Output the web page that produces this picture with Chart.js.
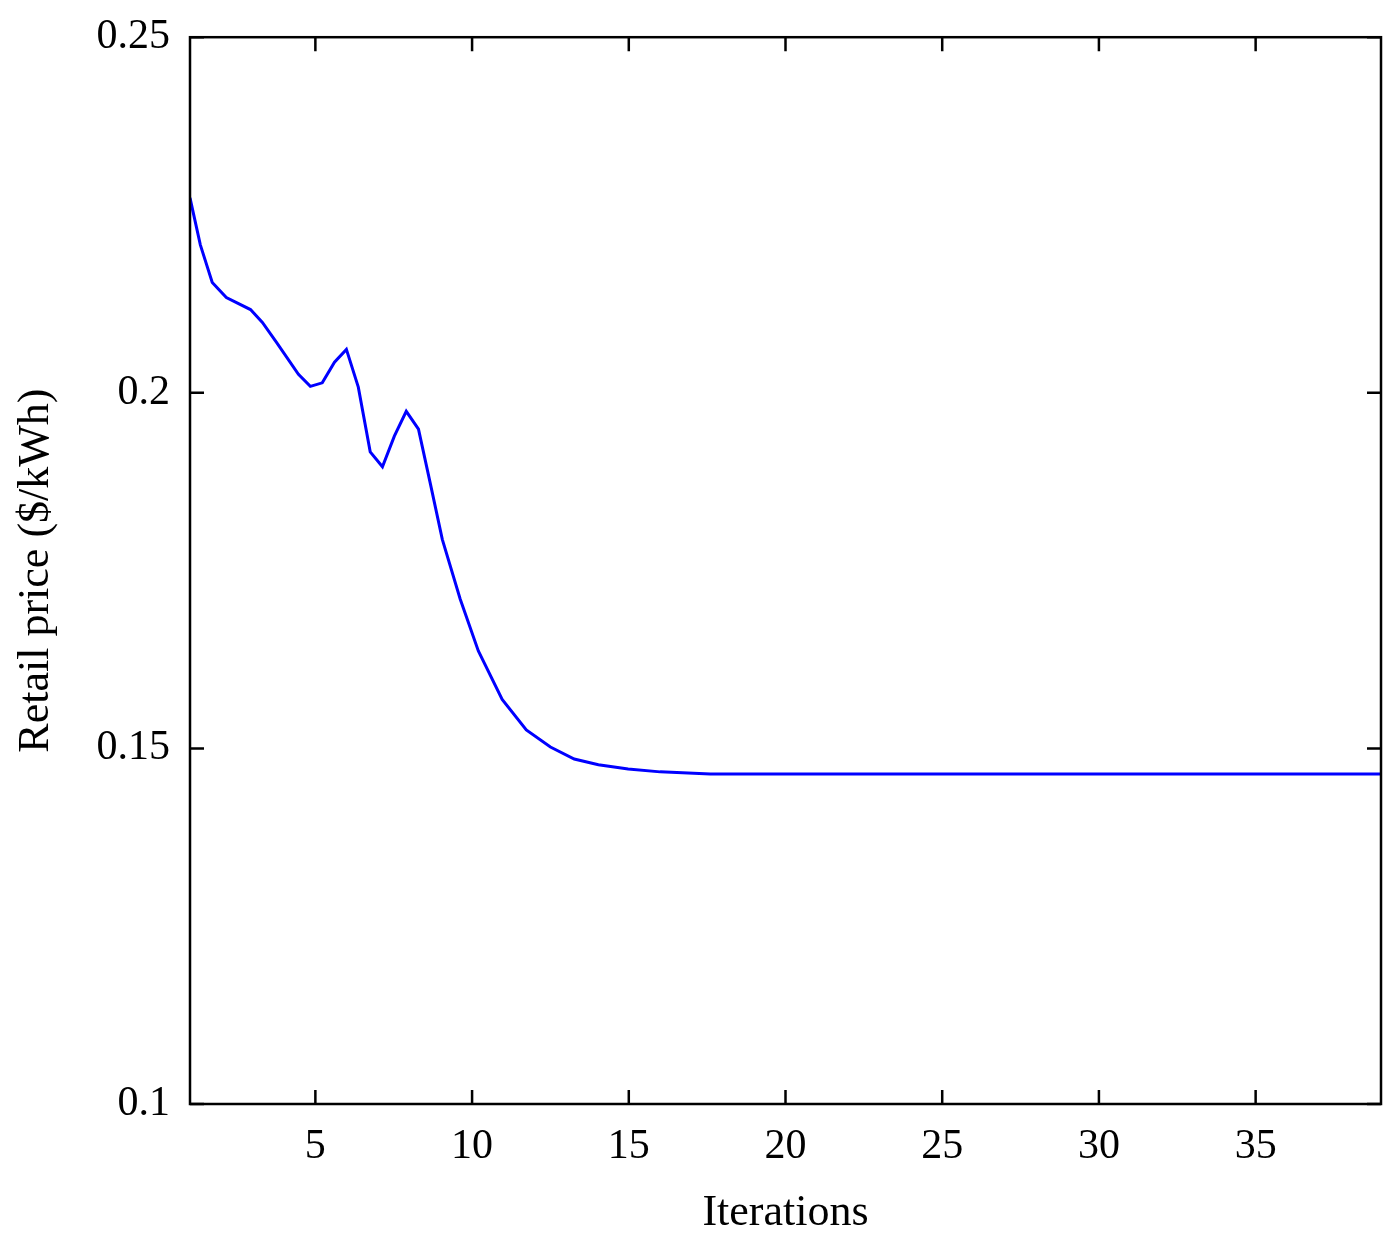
<!DOCTYPE html>
<html><head><style>html,body{margin:0;background:#fff}</style>
<script src="https://cdn.jsdelivr.net/npm/chart.js@4"></script></head>
<body><div style="width:1395px;height:1244px"><canvas id="c"></canvas></div>
<script>
const iterX = [1.0,1.33,1.71,2.16,2.93,3.31,3.76,4.46,4.84,5.22,5.61,5.99,6.37,6.75,7.14,7.52,7.90,8.29,8.67,9.05,9.62,10.2,10.96,11.73,12.5,13.26,14.03,14.98,16.0,17.6,39];
const price = [0.2274,0.2208,0.2155,0.2134,0.2117,0.2099,0.2071,0.2026,0.2009,0.2014,0.2043,0.2061,0.2008,0.1917,0.1896,0.1939,0.1974,0.1949,0.1872,0.1794,0.1710,0.1637,0.1569,0.1526,0.1502,0.1485,0.1477,0.1471,0.1467,0.1464,0.1464];
const xTicks = [5,10,15,20,25,30,35];
const yTicks = [0.1,0.15,0.2,0.25];
const F = "'Liberation Serif', serif";
const boxTicks = {id:'boxTicks', afterDraw(ch){
  const {ctx, chartArea:a, scales:{x,y}} = ch;
  ctx.save(); ctx.strokeStyle='#000'; ctx.lineWidth=2.5;
  ctx.strokeRect(a.left,a.top,a.right-a.left,a.bottom-a.top);
  ctx.beginPath();
  xTicks.forEach(v=>{const p=x.getPixelForValue(v);ctx.moveTo(p,a.bottom);ctx.lineTo(p,a.bottom-14);ctx.moveTo(p,a.top);ctx.lineTo(p,a.top+14);});
  yTicks.forEach(v=>{const p=y.getPixelForValue(v);ctx.moveTo(a.left,p);ctx.lineTo(a.left+14,p);ctx.moveTo(a.right,p);ctx.lineTo(a.right-14,p);});
  ctx.stroke(); ctx.restore();
}};
new Chart(document.getElementById('c'),{type:'line',
 data:{datasets:[{data:iterX.map((v,i)=>({x:v,y:price[i]})),borderColor:'#0000ff',borderWidth:3,pointRadius:0,tension:0}]},
 options:{responsive:true,maintainAspectRatio:false,animation:false,
  layout:{padding:{top:31,right:14,left:0,bottom:0}},
  plugins:{legend:{display:false},tooltip:{enabled:false}},
  scales:{
   x:{type:'linear',min:1,max:39,grid:{display:false},border:{display:false},
      afterBuildTicks(s){s.ticks=xTicks.map(v=>({value:v}));},
      afterFit(s){s.height=140;},
      ticks:{font:{family:F,size:42},color:'#000',maxRotation:0,padding:10},
      title:{display:true,text:'Iterations',font:{family:F,size:44},color:'#000',padding:{top:0,bottom:4}}},
   y:{min:0.1,max:0.25,grid:{display:false},border:{display:false},
      afterBuildTicks(s){s.ticks=yTicks.map(v=>({value:v}));},
      afterFit(s){s.width=190;},
      ticks:{font:{family:F,size:42},color:'#000',padding:12,callback:v=>String(v)},
      title:{display:true,text:'Retail price ($/kWh)',font:{family:F,size:44},color:'#000',padding:{top:10,bottom:20}}}
  }},
 plugins:[boxTicks]});
</script></body></html>
